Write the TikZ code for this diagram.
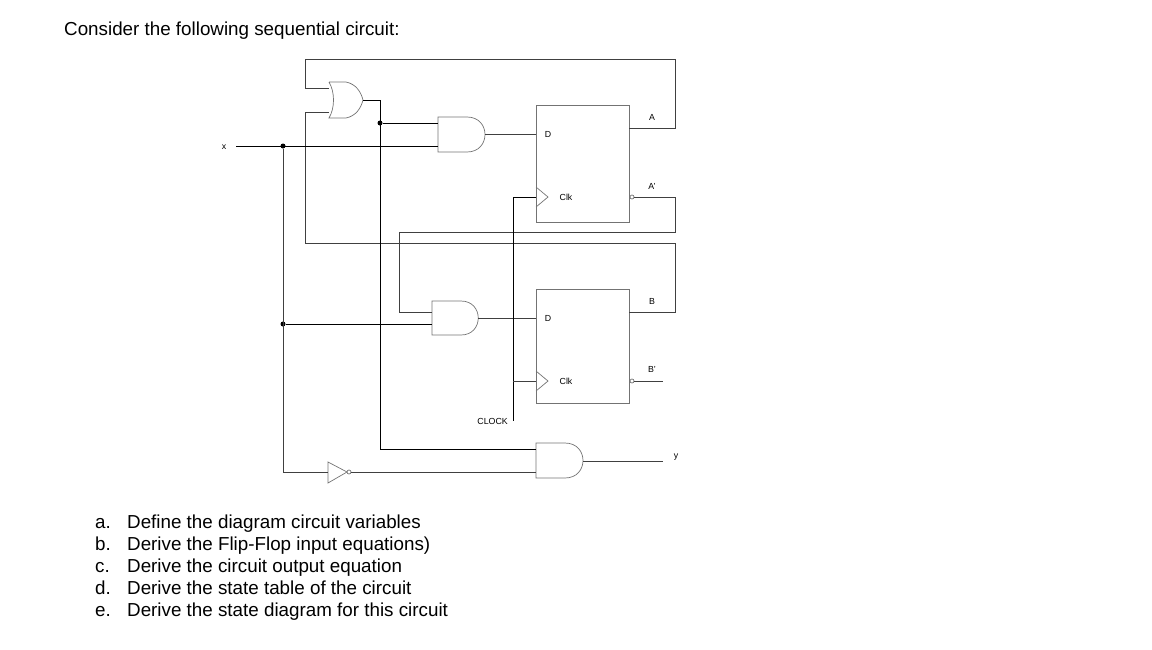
\documentclass[tikz,border=0pt]{standalone}
\usepackage{fontspec}
\setmainfont{Liberation Sans}
\begin{document}
\begin{tikzpicture}[x=1pt,y=-1pt,
  w/.style={line width=0.9pt,black!75},
  wb/.style={line width=1pt,black},
  g/.style={line width=0.7pt,black!55},
  lab/.style={font=\fontsize{8.8}{10}\selectfont,inner sep=0pt},
  txt/.style={font=\fontsize{18.8}{22}\selectfont,inner sep=0pt,anchor=west,text height=13pt,text depth=4pt},
  dot/.style={circle,fill=black,inner sep=0pt,minimum size=5pt}]
\useasboundingbox (0,0) rectangle (1152,649);
\node[txt] (title) at (64,31) {Consider the following sequential circuit:};
% flip flops
\node[g,draw,minimum width=93pt,minimum height=117pt,inner sep=0pt,anchor=north west] (ff1) at (536,105) {};
\node[g,draw,minimum width=93pt,minimum height=114pt,inner sep=0pt,anchor=north west] (ff2) at (536,289) {};
\draw[g] (536,187)--(548,197)--(536,207);
\draw[g] (536,371)--(548,381)--(536,391);
\node[lab] (d1) at (548,134) {D};
\node[lab] (c1) at (566,197) {Clk};
\node[lab] (d2) at (548,318) {D};
\node[lab] (c2) at (566,381) {Clk};
\node[lab] (la) at (652,117) {A};
\node[lab] (lap) at (652,186) {A'};
\node[lab] (lb) at (652,301) {B};
\node[lab] (lbp) at (652,369) {B'};
\node[g,draw,circle,inner sep=0pt,minimum size=4pt] (q1) at (632,197) {};
\node[g,draw,circle,inner sep=0pt,minimum size=4pt] (q2) at (632,381) {};
% OR gate
\draw[g] (329,82) -- (346,82) .. controls (356,84) and (361,92) .. (363,100) .. controls (361,108) and (356,116) .. (346,118) -- (329,118) .. controls (335,108) and (335,92) .. (329,82);
% AND gates
\draw[g] (438,117) -- (467,117) .. controls (491,117) and (491,152) .. (467,152) -- (438,152) -- cycle;
\draw[g] (432,301) -- (461,301) .. controls (484,301) and (484,335) .. (461,335) -- (432,335) -- cycle;
\draw[g] (536,443) -- (565,443) .. controls (589,443) and (589,478) .. (565,478) -- (536,478) -- cycle;
% inverter
\draw[g] (328,462) -- (347,472) -- (328,483) -- cycle;
\node[g,draw,circle,inner sep=0pt,minimum size=4pt] (inv) at (349,472) {};
% labels
\node[lab] (lx) at (224,147) {x};
\node[lab,anchor=east] (lclk) at (508,421) {CLOCK};
\node[lab] (ly) at (676,457) {y};
% dots
\node[dot] (dx1) at (283,146) {};
\node[dot] (dx2) at (283,324) {};
\node[dot] (dor) at (380,123) {};
\coordinate (clkend) at (513,421);
% wires
\draw[w] (305,88) -- (305,59) -- (675,59) -- (675,128) -- (629,128);
\draw[w] (329,88) -- (305,88);
\draw[w] (329,112) -- (305,112) -- (305,243) -- (675,243) -- (675,312) -- (629,312);
\draw[wb] (363,100) -- (380,100) -- (380,449) -- (536,449);
\draw[wb] (dor) -- (438,123);
\draw[wb] (236,146) -- (438,146);
\draw[w] (dx1) -- (283,472) -- (328,472);
\draw[w] (inv) -- (536,472);
\draw[wb] (dx2) -- (432,324);
\draw[w] (485,134) -- (536,134);
\draw[w] (478,318) -- (536,318);
\draw[w] (634,197) -- (675,197) -- (675,232) -- (399,232) -- (399,312) -- (432,312);
\draw[w] (634,381) -- (663,381);
\draw[wb] (536,197) -- (513,197) -- (clkend);
\draw[w] (513,381) -- (536,381);
\draw[w] (583,461) -- (663,461);
% questions
\node[txt] (qa) at (95,524) {a.};
\node[txt] (qb) at (95,546) {b.};
\node[txt] (qc) at (95,568) {c.};
\node[txt] (qd) at (95,590) {d.};
\node[txt] (qe) at (95,612) {e.};
\node[txt] (ta) at (127,524) {Define the diagram circuit variables};
\node[txt] (tb) at (127,546) {Derive the Flip-Flop input equations)};
\node[txt] (tc) at (127,568) {Derive the circuit output equation};
\node[txt] (td) at (127,590) {Derive the state table of the circuit};
\node[txt] (te) at (127,612) {Derive the state diagram for this circuit};
\end{tikzpicture}
\end{document}
